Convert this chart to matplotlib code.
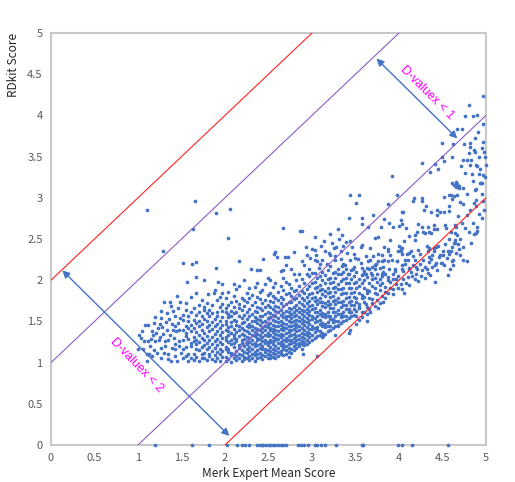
import numpy as np
import matplotlib
matplotlib.use("Agg")
from matplotlib import pyplot as plt

plt.rcParams['font.family'] = ['Noto Sans CJK KR', 'DejaVu Sans']

# ---- data ----
# individual points (sparse edges and outliers)
loose_pts = [
    (1.01, 1.34), (1.03, 1.30), (1.07, 1.26), (1.12, 1.26), (1.00, 1.16), (1.06, 1.16), (1.10, 1.10),
    (1.13, 1.10), (1.16, 1.08), (1.10, 1.02), (1.16, 1.38), (1.17, 1.33), (1.20, 1.55), (1.26, 1.54),
    (1.08, 1.46), (1.12, 1.46), (1.23, 1.42), (1.28, 1.43), (1.25, 1.31), (1.24, 1.27), (1.20, 1.26),
    (1.31, 1.26), (1.35, 1.28), (1.31, 1.20), (1.39, 1.18), (1.43, 1.16), (1.35, 1.10), (1.43, 1.08),
    (1.45, 1.02), (1.35, 1.04), (1.30, 1.74), (1.37, 1.74), (1.38, 1.69), (1.45, 1.81), (1.36, 1.53),
    (1.42, 1.56), (1.48, 1.54), (1.39, 1.47), (1.46, 1.48), (1.44, 1.38), (1.29, 2.36), (1.14, 1.20),
    (1.18, 1.15), (1.22, 1.12), (1.27, 1.06), (1.21, 1.36), (1.29, 1.35), (1.33, 1.40), (1.37, 1.34),
    (1.41, 1.30), (1.47, 1.26), (1.33, 1.60), (1.27, 1.63), (1.40, 1.63), (1.46, 1.66), (1.49, 1.12),
    (1.47, 1.20), (1.40, 1.40), (1.32, 1.49), (1.25, 1.47), (1.18, 1.48), (1.48, 1.73), (1.42, 1.22),
    (1.38, 1.02), (1.30, 1.12), (1.26, 1.18), (1.05, 1.38), (1.15, 1.29), (1.47, 1.40), (1.43, 1.45),
    (1.10, 2.85), (1.66, 2.96), (1.90, 2.81), (2.06, 2.86), (1.63, 2.62), (2.03, 2.51),
    (1.52, 2.21), (1.62, 2.20), (1.67, 2.22), (1.90, 2.15), (2.16, 2.23), (2.30, 2.14),
    (1.67, 2.04), (1.56, 1.98), (1.76, 2.00), (1.92, 1.98), (1.97, 1.95), (1.81, 1.83), (1.87, 1.84),
    (2.44, 2.26), (2.56, 2.32), (2.58, 2.34), (2.60, 2.28), (2.69, 2.28), (2.72, 2.28), (2.79, 2.34),
    (2.67, 2.63), (2.86, 2.60), (2.88, 2.60), (3.03, 2.53), (3.30, 2.62), (3.21, 2.56), (3.34, 2.55),
    (3.44, 3.03), (3.54, 3.04), (3.50, 2.94), (3.42, 2.75), (3.57, 2.75), (3.57, 2.68), (3.70, 2.79),
    (3.64, 2.64), (3.72, 2.51), (3.67, 2.39), (3.39, 2.46), (3.44, 2.47), (3.00, 2.38), (3.03, 2.37),
    (3.15, 2.36), (3.25, 2.39), (3.28, 2.40), (3.33, 2.36), (3.40, 2.33), (3.48, 2.32), (3.56, 2.40),
    (3.57, 2.43), (3.62, 2.29), (3.64, 2.23), (3.67, 2.24), (3.70, 2.29), (3.69, 2.16), (3.72, 2.18),
    (3.56, 2.21), (3.53, 2.26), (3.59, 2.08), (3.62, 2.08), (3.68, 2.09), (3.72, 2.13), (3.44, 2.25),
    (3.49, 2.27), (3.35, 2.17), (3.47, 2.13), (3.41, 2.07), (3.38, 2.18),
    (3.05, 2.30), (3.10, 2.41), (3.14, 2.47), (3.19, 2.33), (3.23, 2.45), (3.27, 2.29), (3.31, 2.50),
    (3.36, 2.41), (3.08, 2.15), (3.17, 2.20), (3.26, 2.24), (3.46, 2.40), (2.98, 2.27), (2.93, 2.40),
    (3.98, 3.03), (3.87, 2.92), (3.83, 2.74), (3.89, 2.69), (3.93, 2.65), (3.79, 2.65), (3.90, 2.49),
    (3.76, 2.52), (3.83, 2.40), (3.87, 2.38), (3.87, 2.35), (3.76, 2.23), (3.74, 2.20), (3.80, 2.23),
    (3.83, 2.25), (3.87, 2.23), (3.72, 2.19), (3.78, 2.15), (3.82, 2.16), (3.98, 2.23), (3.76, 2.32),
    (3.80, 2.31), (3.90, 2.31), (3.92, 2.25), (3.82, 2.10), (3.80, 2.08), (3.95, 2.11), (3.89, 2.14),
    (3.92, 3.26), (3.54, 1.68), (3.62, 1.71), (3.63, 1.50), (3.67, 1.62), (3.76, 1.66), (3.82, 1.74),
    (3.93, 1.89), (3.44, 1.40), (3.42, 1.36), (3.30, 1.44), (3.13, 1.32), (2.90, 1.11), (2.73, 1.07),
    (4.17, 3.00), (4.27, 3.00), (4.27, 2.96), (4.31, 2.90), (4.29, 2.85), (4.03, 2.83), (4.05, 2.83),
    (4.02, 2.73), (4.00, 2.66), (4.04, 2.68), (4.08, 2.63), (4.22, 2.68), (4.27, 2.64), (4.28, 2.59),
    (4.30, 2.57), (4.33, 2.65), (4.34, 2.58), (4.44, 2.79), (4.37, 2.83), (4.47, 2.83), (4.52, 2.83),
    (4.57, 2.90), (4.61, 2.98), (4.60, 3.04), (4.66, 3.13), (4.61, 3.18), (4.67, 3.17), (4.73, 3.12),
    (4.69, 3.12), (4.52, 3.01), (4.57, 3.04), (4.63, 3.02), (4.67, 3.03), (4.74, 2.92), (4.86, 2.94),
    (4.88, 2.97), (4.97, 2.96), (4.93, 3.18), (4.95, 3.18), (4.88, 3.11), (4.78, 2.79), (4.64, 2.67),
    (4.66, 2.65), (4.53, 2.67), (4.54, 2.63), (4.60, 2.58), (4.64, 2.57), (4.67, 2.55), (4.44, 2.62),
    (4.37, 2.57), (4.40, 2.67), (4.40, 2.62), (4.21, 2.59), (4.18, 2.55), (4.18, 2.49), (4.12, 2.54),
    (4.06, 2.47), (4.00, 2.41), (4.02, 2.39), (4.04, 2.39), (3.99, 2.36), (4.02, 2.35), (4.03, 2.32),
    (4.09, 2.32), (4.12, 2.33), (4.14, 2.36), (4.22, 2.37), (4.24, 2.32), (4.32, 2.41), (4.33, 2.35),
    (4.35, 2.39), (4.40, 2.39), (4.42, 2.40), (4.45, 2.42), (4.40, 2.36), (4.38, 2.30), (4.37, 2.26),
    (4.34, 2.22), (4.50, 2.31), (4.50, 2.36), (4.56, 2.36), (4.60, 2.35), (4.63, 2.45), (4.64, 2.49),
    (4.61, 2.40), (4.68, 2.44), (4.80, 2.58), (4.86, 2.56), (4.90, 2.60), (4.89, 2.57), (4.62, 2.24),
    (4.73, 2.24), (4.78, 2.23), (4.42, 2.21), (4.49, 2.21), (4.30, 2.16), (4.32, 2.13), (4.20, 2.16),
    (4.21, 2.13), (4.11, 2.15), (4.12, 2.13), (4.03, 2.13), (4.05, 2.11), (3.95, 2.13), (3.98, 2.23),
    (4.07, 2.25), (4.10, 2.25), (4.16, 2.29), (4.18, 2.25),
    (4.96, 4.24), (4.80, 4.13), (4.76, 3.99), (4.85, 3.99), (4.67, 3.84), (4.72, 3.84), (4.49, 3.67),
    (4.62, 3.65), (4.75, 3.65), (4.82, 3.67), (4.87, 3.72), (4.82, 3.62), (4.95, 3.61), (4.97, 3.68),
    (4.49, 3.49), (4.52, 3.45), (4.61, 3.49), (4.74, 3.46), (4.78, 3.46), (4.83, 3.46), (4.80, 3.54),
    (4.92, 3.49), (4.99, 3.50), (4.27, 3.42), (4.41, 3.41), (4.45, 3.35), (4.36, 3.31), (4.71, 3.39),
    (4.82, 3.40), (4.89, 3.40), (4.90, 3.39), (5.00, 3.40), (4.84, 3.29), (4.92, 3.29), (4.97, 3.28),
    (4.87, 3.55), (4.63, 3.15), (4.66, 3.19), (4.69, 3.14), (4.87, 3.10), (4.94, 3.18), (4.16, 2.96),
    (4.44, 2.85), (4.58, 2.84),
    (4.03, 1.89), (4.06, 1.85), (4.15, 2.05), (4.41, 1.98), (4.56, 2.06), (4.59, 2.13), (4.48, 2.21),
    (4.41, 2.19), (4.61, 2.23), (4.62, 2.19), (4.66, 2.33), (4.69, 2.38), (4.64, 2.45),
    (4.02, 1.95), (4.05, 2.01), (4.08, 1.97), (4.10, 2.04), (4.12, 1.94), (4.14, 2.10), (4.18, 2.02),
    (4.20, 2.08), (4.22, 1.99), (4.25, 2.05), (4.27, 2.12), (4.30, 2.03), (4.33, 2.09), (4.36, 2.06),
    (4.38, 2.16), (4.44, 2.12), (4.46, 2.28), (4.52, 2.18), (4.55, 2.27), (4.58, 2.32), (4.70, 2.30),
    (4.74, 2.40), (4.04, 2.18), (4.07, 2.20), (4.16, 2.19), (4.24, 2.20), (4.28, 2.25), (4.35, 2.28),
    (4.47, 2.30), (4.53, 2.44), (4.57, 2.50), (4.70, 2.50), (4.83, 2.45), (4.90, 2.64), (4.95, 2.75),
    (4.98, 2.85), (4.92, 2.80), (4.85, 2.70), (4.76, 2.63), (4.72, 2.70), (4.68, 2.78), (4.82, 2.85),
    (4.88, 2.90), (4.95, 3.05), (4.99, 3.25), (4.93, 3.35), (4.85, 3.20), (4.78, 3.05), (4.70, 2.95),
    (4.76, 3.30), (4.98, 3.55), (4.91, 3.80), (4.97, 3.90), (4.90, 4.00), (4.86, 3.58),
]

# denser part of the cloud, read column by column
col_x = [1.52, 1.55, 1.58, 1.61, 1.64, 1.67, 1.70, 1.73, 1.76, 1.79, 1.82, 1.85, 1.88, 1.91, 1.94, 1.97]
col_y = [
    [1.05, 1.16, 1.27, 1.52, 1.58, 1.39],
    [1.08, 1.19, 1.36, 1.45, 1.72, 1.64, 1.32],
    [1.02, 1.11, 1.29, 1.50, 1.56, 1.42],
    [1.06, 1.20, 1.38, 1.46, 1.62, 1.80, 1.24],
    [1.03, 1.10, 1.31, 1.42, 1.52, 1.66, 1.26],
    [1.07, 1.22, 1.28, 1.37, 1.48, 1.84, 1.58, 1.16],
    [1.02, 1.15, 1.25, 1.33, 1.44, 1.51, 1.62, 1.70],
    [1.05, 1.19, 1.30, 1.40, 1.47, 1.76, 1.56, 1.11],
    [1.12, 1.21, 1.27, 1.36, 1.53, 1.64, 1.68, 1.06],
    [1.03, 1.16, 1.24, 1.32, 1.43, 1.50, 1.72, 1.60],
    [1.11, 1.19, 1.28, 1.38, 1.46, 1.56, 1.64, 1.08],
    [1.04, 1.14, 1.23, 1.31, 1.41, 1.49, 1.60, 1.70],
    [1.09, 1.18, 1.26, 1.35, 1.44, 1.53, 1.88, 1.02],
    [1.05, 1.13, 1.21, 1.29, 1.38, 1.47, 1.57, 1.62, 1.76],
    [1.02, 1.10, 1.17, 1.25, 1.33, 1.42, 1.51, 1.80, 1.67],
    [1.07, 1.14, 1.22, 1.30, 1.37, 1.46, 1.55, 1.63, 1.85, 1.71],
]

core_x = [2.01, 2.04, 2.07, 2.10, 2.13, 2.16, 2.19, 2.22, 2.25, 2.28, 2.31, 2.34, 2.37, 2.40, 2.43, 2.46, 2.49]
core_y = [
    [1.02, 1.07, 1.16, 1.19, 1.28, 1.31, 1.40, 1.47, 1.50, 1.61, 1.66, 1.79],
    [1.04, 1.13, 1.17, 1.25, 1.34, 1.38, 1.43, 1.55, 1.59, 1.70, 1.86],
    [1.01, 1.09, 1.12, 1.22, 1.27, 1.36, 1.45, 1.49, 1.57, 1.63, 1.74],
    [1.05, 1.10, 1.19, 1.24, 1.30, 1.33, 1.41, 1.52, 1.60, 1.68, 1.81, 1.95],
    [1.03, 1.08, 1.14, 1.26, 1.29, 1.37, 1.46, 1.51, 1.62, 1.75, 1.89],
    [1.06, 1.11, 1.18, 1.21, 1.32, 1.39, 1.44, 1.56, 1.66, 1.71, 1.93],
    [1.02, 1.09, 1.15, 1.24, 1.27, 1.35, 1.42, 1.48, 1.54, 1.64, 1.78],
    [1.04, 1.07, 1.13, 1.20, 1.29, 1.33, 1.40, 1.49, 1.58, 1.69, 1.76, 2.00],
    [1.05, 1.12, 1.16, 1.23, 1.26, 1.31, 1.38, 1.45, 1.53, 1.61, 1.73, 1.84],
    [1.03, 1.08, 1.14, 1.19, 1.25, 1.30, 1.36, 1.43, 1.47, 1.56, 1.65, 1.79, 1.90],
    [1.06, 1.10, 1.17, 1.22, 1.28, 1.34, 1.39, 1.44, 1.51, 1.59, 1.70, 1.82],
    [1.02, 1.09, 1.13, 1.20, 1.24, 1.32, 1.37, 1.42, 1.50, 1.55, 1.63, 1.74, 1.92],
    [1.05, 1.11, 1.15, 1.21, 1.27, 1.30, 1.35, 1.41, 1.48, 1.53, 1.62, 1.68, 1.80, 1.97, 2.12],
    [1.07, 1.12, 1.18, 1.23, 1.29, 1.33, 1.39, 1.46, 1.52, 1.57, 1.66, 1.77, 1.86, 2.12],
    [1.04, 1.09, 1.16, 1.20, 1.26, 1.31, 1.37, 1.42, 1.49, 1.56, 1.64, 1.72, 1.88],
    [1.08, 1.13, 1.17, 1.24, 1.28, 1.34, 1.40, 1.44, 1.51, 1.59, 1.67, 1.76, 1.95],
    [1.05, 1.10, 1.15, 1.21, 1.25, 1.32, 1.36, 1.43, 1.47, 1.54, 1.61, 1.70, 1.82, 2.03],
]

mid_x = [2.52, 2.55, 2.58, 2.61, 2.64, 2.67, 2.70, 2.73, 2.76, 2.79, 2.82, 2.85, 2.88, 2.91, 2.94, 2.97]
mid_y = [
    [1.05, 1.09, 1.14, 1.19, 1.25, 1.28, 1.33, 1.39, 1.42, 1.48, 1.55, 1.60, 1.68, 1.75, 1.84, 2.00],
    [1.07, 1.12, 1.17, 1.22, 1.26, 1.31, 1.37, 1.41, 1.46, 1.52, 1.58, 1.65, 1.73, 1.81, 1.92],
    [1.06, 1.11, 1.15, 1.20, 1.27, 1.30, 1.35, 1.40, 1.45, 1.50, 1.56, 1.63, 1.69, 1.78, 1.97],
    [1.08, 1.13, 1.18, 1.24, 1.29, 1.33, 1.38, 1.44, 1.49, 1.54, 1.61, 1.67, 1.76, 1.86],
    [1.10, 1.14, 1.21, 1.25, 1.31, 1.35, 1.41, 1.46, 1.51, 1.58, 1.64, 1.72, 1.80, 1.93, 2.11],
    [1.09, 1.16, 1.19, 1.23, 1.28, 1.34, 1.39, 1.43, 1.48, 1.55, 1.60, 1.69, 1.77, 1.88, 2.03, 2.12],
    [1.11, 1.15, 1.20, 1.26, 1.30, 1.36, 1.42, 1.47, 1.53, 1.57, 1.63, 1.71, 1.83, 1.98, 2.18],
    [1.13, 1.18, 1.22, 1.27, 1.32, 1.37, 1.40, 1.45, 1.50, 1.56, 1.62, 1.66, 1.74, 1.85, 1.95],
    [1.12, 1.17, 1.24, 1.28, 1.33, 1.39, 1.44, 1.49, 1.54, 1.59, 1.65, 1.73, 1.81, 1.90, 2.13],
    [1.15, 1.20, 1.25, 1.30, 1.35, 1.41, 1.46, 1.51, 1.57, 1.62, 1.68, 1.77, 1.87, 2.08],
    [1.18, 1.23, 1.27, 1.32, 1.38, 1.43, 1.47, 1.52, 1.58, 1.64, 1.70, 1.79, 1.88, 2.00],
    [1.20, 1.24, 1.29, 1.34, 1.39, 1.45, 1.50, 1.55, 1.61, 1.66, 1.73, 1.82, 1.93, 2.08],
    [1.17, 1.22, 1.26, 1.31, 1.36, 1.42, 1.48, 1.53, 1.59, 1.64, 1.71, 1.78, 1.87, 2.02, 2.23],
    [1.21, 1.25, 1.30, 1.35, 1.40, 1.46, 1.51, 1.57, 1.63, 1.69, 1.76, 1.85, 1.96, 2.19],
    [1.23, 1.28, 1.33, 1.37, 1.43, 1.49, 1.54, 1.60, 1.65, 1.72, 1.80, 1.89, 2.08, 2.30],
    [1.25, 1.31, 1.36, 1.41, 1.47, 1.52, 1.58, 1.63, 1.69, 1.75, 1.83, 1.93, 2.05, 2.14],
]

upper_x = [3.00, 3.03, 3.06, 3.09, 3.12, 3.15, 3.18, 3.21, 3.24, 3.27, 3.30, 3.33, 3.36, 3.39, 3.42, 3.45, 3.48]
upper_y = [
    [1.28, 1.33, 1.41, 1.45, 1.53, 1.57, 1.65, 1.70, 1.79, 1.85, 1.96, 2.09],
    [1.30, 1.37, 1.42, 1.49, 1.54, 1.61, 1.66, 1.75, 1.80, 1.90, 1.98, 2.09, 2.24],
    [1.08, 1.32, 1.39, 1.43, 1.51, 1.57, 1.62, 1.71, 1.76, 1.86, 1.92, 2.03, 2.23],
    [1.34, 1.38, 1.47, 1.52, 1.59, 1.64, 1.73, 1.78, 1.88, 1.94, 2.05, 2.20],
    [1.31, 1.36, 1.44, 1.48, 1.56, 1.60, 1.69, 1.74, 1.83, 1.89, 2.00, 2.10, 2.24],
    [1.35, 1.43, 1.47, 1.55, 1.59, 1.67, 1.72, 1.81, 1.87, 1.97, 2.06],
    [1.38, 1.45, 1.49, 1.57, 1.62, 1.70, 1.75, 1.85, 1.91, 2.02, 2.12],
    [1.40, 1.44, 1.53, 1.57, 1.66, 1.71, 1.80, 1.86, 1.96, 2.03, 2.17, 2.30],
    [1.42, 1.49, 1.53, 1.61, 1.66, 1.75, 1.81, 1.91, 1.98, 2.09],
    [1.33, 1.45, 1.50, 1.57, 1.62, 1.71, 1.76, 1.86, 1.92, 2.03, 2.10],
    [1.46, 1.51, 1.59, 1.64, 1.73, 1.79, 1.89, 1.95, 2.07, 2.13],
    [1.48, 1.55, 1.59, 1.68, 1.73, 1.83, 1.89, 1.99, 2.07, 2.26],
    [1.50, 1.57, 1.61, 1.70, 1.75, 1.85, 1.91, 2.02, 2.10, 2.20],
    [1.52, 1.57, 1.65, 1.70, 1.79, 1.85, 1.96, 2.03, 2.14],
    [1.54, 1.61, 1.65, 1.74, 1.80, 1.90, 1.97, 2.07],
    [1.56, 1.61, 1.70, 1.75, 1.85, 1.91, 2.02, 2.12],
    [1.58, 1.65, 1.70, 1.80, 1.86, 1.97, 2.05, 2.16],
]

right_x = [3.51, 3.54, 3.57, 3.60, 3.63, 3.66, 3.69, 3.72, 3.75, 3.78, 3.81, 3.84, 3.87, 3.90, 3.93, 3.96, 3.99]
right_y = [
    [1.47, 1.56, 1.63, 1.74, 1.79, 1.91, 1.98, 2.10],
    [1.52, 1.66, 1.71, 1.85, 1.93, 2.02],
    [1.55, 1.61, 1.78, 1.82, 1.97, 2.06, 2.15],
    [1.62, 1.73, 1.80, 1.91, 2.00, 2.11],
    [1.59, 1.68, 1.84, 1.88, 2.04, 2.15],
    [1.65, 1.79, 1.87, 1.96, 2.13],
    [1.72, 1.77, 1.93, 2.01, 2.06],
    [1.69, 1.85, 1.90, 2.03],
    [1.76, 1.83, 1.98, 2.08],
    [1.72, 1.88, 1.94, 2.02],
    [1.81, 1.97, 2.05],
    [1.78, 1.86, 1.92, 2.07],
    [1.84, 2.00, 2.04],
    [1.91, 1.98],
    [1.83, 2.02, 2.08],
    [1.95, 2.01],
    [1.90, 2.05],
]

# compounds with RDkit score 0
x_zero = [1.20, 1.62, 1.82, 2.02, 2.14, 2.19, 2.23, 2.28, 2.37, 2.40, 2.42, 2.44, 2.47, 2.50,
          2.52, 2.55, 2.58, 2.61, 2.64, 2.67, 2.70, 2.84, 2.87, 2.91, 2.95, 3.03, 3.06, 3.10,
          3.15, 3.28, 3.57, 3.59, 3.99, 4.03, 4.15, 4.56]

# guide lines y = x + offset
line_offsets = [2, 1, -1, -2]
line_colors = ['#FF2020', '#8A5CC6', '#8A5CC6', '#FF2020']

ticks = np.arange(0, 5.01, 0.5)
tick_labels = ['0', '0.5', '1', '1.5', '2', '2.5', '3', '3.5', '4', '4.5', '5']

# ---- assemble points ----
xs = [p[0] for p in loose_pts]
ys = [p[1] for p in loose_pts]
for cx, cy in [(col_x, col_y), (core_x, core_y), (mid_x, mid_y), (upper_x, upper_y), (right_x, right_y)]:
    for x, yl in zip(cx, cy):
        xs += [x] * len(yl)
        ys += yl
xs += x_zero
ys += [0.0] * len(x_zero)

fig = plt.figure(figsize=(5.15, 4.82), dpi=100)
ax = fig.add_axes([51 / 515, 37 / 482, 435 / 515, 412 / 482])

ax.scatter(xs, ys, s=7, color='#4472C4', linewidths=0, zorder=3, clip_on=False)

xx = np.array([-1.0, 6.0])
for off, c in zip(line_offsets, line_colors):
    ax.plot(xx, xx + off, color=c, lw=0.8, zorder=4)

arrow_kw = dict(arrowstyle='<|-|>', color='#4472C4', lw=1.0, mutation_scale=11, shrinkA=0, shrinkB=0)
ax.annotate('', xy=(3.74, 4.69), xytext=(4.67, 3.72), arrowprops=arrow_kw, zorder=5)
ax.annotate('', xy=(0.13, 2.12), xytext=(2.05, 0.11), arrowprops=arrow_kw, zorder=5)

ax.text(4.32, 4.28, 'D-valuex < 1', color='#FF00FF', fontsize=9, rotation=-45,
        ha='center', va='center', family=['Liberation Sans', 'DejaVu Sans'])
ax.text(0.98, 0.97, 'D-valuex < 2', color='#FF00FF', fontsize=9, rotation=-46,
        ha='center', va='center', family=['Liberation Sans', 'DejaVu Sans'])

ax.set_xlim(0, 5)
ax.set_ylim(0, 5)
ax.set_xticks(ticks)
ax.set_xticklabels(tick_labels)
ax.set_yticks(ticks)
ax.set_yticklabels(tick_labels)
ax.tick_params(length=0, labelsize=8, colors='#595959', pad=6)
for s in ax.spines.values():
    s.set_color('#C8C8C8')
    s.set_linewidth(1.5)

ax.set_xlabel('Merk Expert Mean Score', fontsize=8.5, color='#262626', labelpad=3)
ax.set_ylabel('RDkit Score', fontsize=8.5, color='#262626', loc='top')
ax.yaxis.set_label_coords(-0.071, 1.0)

fig.savefig('out.png', dpi=100)
